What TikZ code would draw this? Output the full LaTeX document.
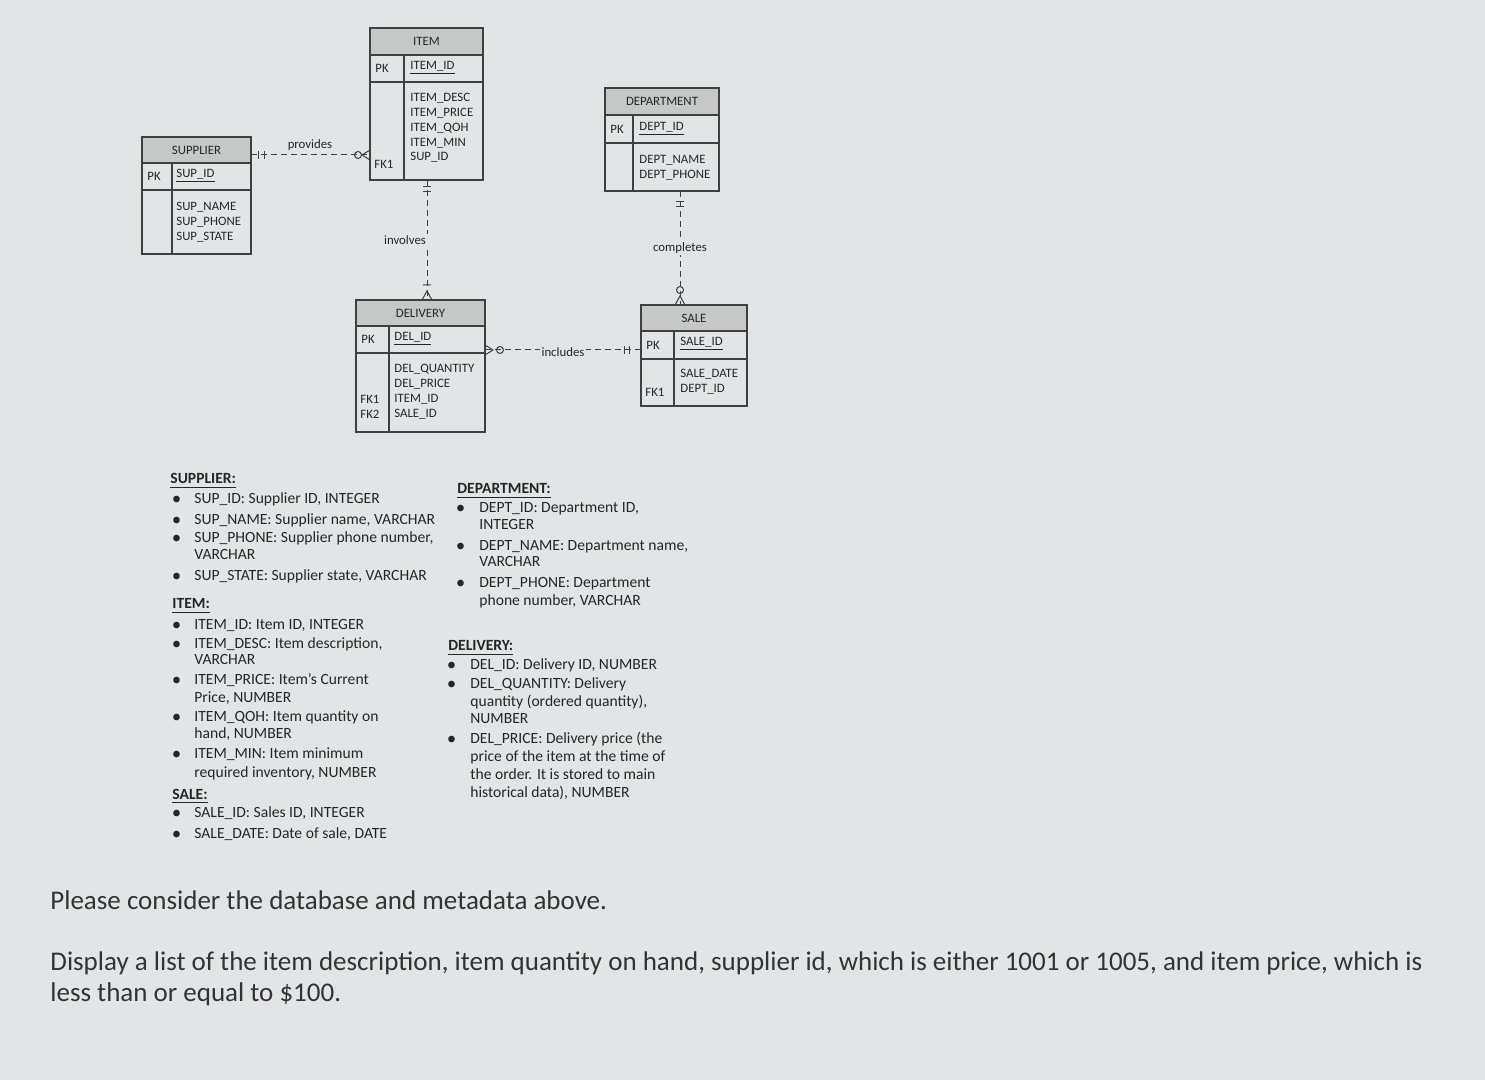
\documentclass[tikz,border=0pt]{standalone}
\usepackage{fontspec}
\setmainfont{Carlito}
\newcommand{\uline}[1]{\underline{#1}}
\begin{document}
\begin{tikzpicture}[x=0.5pt,y=-0.5pt,
  tb/.style={font=\fontsize{6.4}{7.4}\selectfont,inner sep=0pt,text=black!85},
  md/.style={font=\fontsize{7.8}{8}\selectfont,inner sep=0pt,anchor=base west,text=black!85},
  bl/.style={font=\fontsize{7.8}{8}\selectfont,inner sep=0pt,anchor=base west,text=black!85},
  big/.style={font=\fontsize{13.5}{15}\selectfont,inner sep=0pt,anchor=base west,text=black!80},
  con/.style={dashed,dash pattern=on 3pt off 2pt,draw=black!75,line width=0.5pt},
  mk/.style={draw=black!75,line width=0.5pt}]
\definecolor{bg}{RGB}{226,229,229}
\definecolor{hd}{RGB}{198,200,200}
\fill[bg] (0,0) rectangle (1485,1080);
\useasboundingbox (0,0) rectangle (1485,1080);
\newcommand{\ertable}[9]{%
  \fill[hd] (#2,#4) rectangle (#3,#5);
  \draw[black!75,line width=0.8pt] (#2,#4) rectangle (#3,#7);
  \draw[black!75,line width=0.8pt] (#2,#5) -- (#3,#5) (#2,#6) -- (#3,#6) (#8,#5) -- (#8,#7);
  \node[tb] (#9) at ({(#2+#3)/2},{(#4+#5)/2}) {#1};
  \node[tb,anchor=west] at (#2+5,{(#5+#6)/2}) {PK};
}
\ertable{ITEM}{370}{483}{28}{55}{82}{180}{404}{item}
\ertable{SUPPLIER}{142}{251}{137}{163}{190}{254}{172}{sup}
\ertable{DEPARTMENT}{605}{719}{88}{115}{143}{191}{633}{dept}
\ertable{DELIVERY}{356}{485}{300}{326}{353}{432}{389}{del}
\ertable{SALE}{641}{747}{305}{331}{359}{406}{674}{sale}
\node[tb,anchor=west] at (410,68) {\uline{ITEM\_ID}};
\node[tb,anchor=west] at (176,176) {\uline{SUP\_ID}};
\node[tb,anchor=west] at (639,129) {\uline{DEPT\_ID}};
\node[tb,anchor=west] at (394,339) {\uline{DEL\_ID}};
\node[tb,anchor=west] at (680,344) {\uline{SALE\_ID}};
\node[tb,anchor=north west,align=left] at (410,93) {ITEM\_DESC\\ITEM\_PRICE\\ITEM\_QOH\\ITEM\_MIN\\SUP\_ID};
\node[tb,anchor=west] at (374,164) {FK1};
\node[tb,anchor=north west,align=left] at (176,202) {SUP\_NAME\\SUP\_PHONE\\SUP\_STATE};
\node[tb,anchor=north west,align=left] at (639,155) {DEPT\_NAME\\DEPT\_PHONE};
\node[tb,anchor=north west,align=left] at (394,364) {DEL\_QUANTITY\\DEL\_PRICE\\ITEM\_ID\\SALE\_ID};
\node[tb,anchor=north west,align=left] at (360,395) {FK1\\FK2};
\node[tb,anchor=north west,align=left] at (680,369) {SALE\_DATE\\DEPT\_ID};
\node[tb,anchor=west] at (645,392) {FK1};
\coordinate (a1) at (251,155); \coordinate (a2) at (370,155);
\draw[con] (a1) -- (a2);
\draw[mk] (258,151)--(258,159) (264,151)--(264,159);
\draw[mk] (358,155) circle (3.5) (370,150)--(362,155)--(370,160);
\node[tb] at (310,145) {provides};
\coordinate (b1) at (427,180); \coordinate (b2) at (427,300);
\draw[con] (b1) -- (b2);
\draw[mk] (423,187)--(431,187) (423,192)--(431,192);
\draw[mk] (423,285)--(431,285) (422,300)--(427,291)--(432,300);
\node[tb,fill=bg,inner sep=1pt] at (405,240) {involves};
\coordinate (c1) at (680,191); \coordinate (c2) at (680,305);
\draw[con] (c1) -- (c2);
\draw[mk] (676,202)--(684,202) (676,207)--(684,207);
\draw[mk] (680,290) circle (3.5) (675,305)--(680,296)--(685,305);
\node[tb,fill=bg,inner sep=1pt] at (680,248) {completes};
\coordinate (d1) at (485,350); \coordinate (d2) at (641,350);
\draw[con] (d1) -- (d2);
\draw[mk] (500,350) circle (3.5) (485,345)--(493,350)--(485,355);
\draw[mk] (624,346)--(624,354) (629,346)--(629,354);
\node[tb,fill=bg,inner sep=1pt] at (563,352) {includes};
\node[md,font=\fontsize{7.8}{8}\selectfont\bfseries] at (170,484) {\uline{SUPPLIER:}};
\foreach \y/\t/\b in {504/{SUP\_ID: Supplier ID, INTEGER}/1, 525/{SUP\_NAME: Supplier name, VARCHAR}/1, 543/{SUP\_PHONE: Supplier phone number,}/1, 560/{VARCHAR}/0, 581/{SUP\_STATE: Supplier state, VARCHAR}/1,
 630/{ITEM\_ID: Item ID, INTEGER}/1, 649/{ITEM\_DESC: Item description,}/1, 665/{VARCHAR}/0, 685/{ITEM\_PRICE: Item's Current}/1, 703/{Price, NUMBER}/0, 722/{ITEM\_QOH: Item quantity on}/1, 739/{hand, NUMBER}/0, 759/{ITEM\_MIN: Item minimum}/1, 777/{required inventory, NUMBER}/0,
 818/{SALE\_ID: Sales ID, INTEGER}/1, 838/{SALE\_DATE: Date of sale, DATE}/1}
 {\node[md] at (194,\y) {\t}; \ifnum\b=1 \node[bl] at (172,\y) {$\bullet$};\fi}
\node[md,font=\fontsize{7.8}{8}\selectfont\bfseries] at (172,609) {\uline{ITEM:}};
\node[md,font=\fontsize{7.8}{8}\selectfont\bfseries] at (172,799) {\uline{SALE:}};
\node[md,font=\fontsize{7.8}{8}\selectfont\bfseries] at (457,494) {\uline{DEPARTMENT:}};
\node[md,font=\fontsize{7.8}{8}\selectfont\bfseries] at (448,651) {\uline{DELIVERY:}};
\foreach \y/\t/\b in {513/{DEPT\_ID: Department ID,}/1, 530/{INTEGER}/0, 551/{DEPT\_NAME: Department name,}/1, 567/{VARCHAR}/0, 588/{DEPT\_PHONE: Department}/1, 606/{phone number, VARCHAR}/0}
 {\node[md] at (479,\y) {\t}; \ifnum\b=1 \node[bl] at (456,\y) {$\bullet$};\fi}
\foreach \y/\t/\b in {670/{DEL\_ID: Delivery ID, NUMBER}/1, 689/{DEL\_QUANTITY: Delivery}/1, 707/{quantity (ordered quantity),}/0, 724/{NUMBER}/0, 744/{DEL\_PRICE: Delivery price (the}/1, 762/{price of the item at the time of}/0, 779/{the order. It is stored to main}/0, 798/{historical data), NUMBER}/0}
 {\node[md] at (470,\y) {\t}; \ifnum\b=1 \node[bl] at (447,\y) {$\bullet$};\fi}
\node[big] (q1) at (50,909) {Please consider the database and metadata above.};
\node[big] (q2) at (50,970) {Display a list of the item description, item quantity on hand, supplier id, which is either 1001 or 1005, and item price, which is};
\node[big] (q3) at (50,1001) {less than or equal to \$100.};
\end{tikzpicture}
\end{document}
